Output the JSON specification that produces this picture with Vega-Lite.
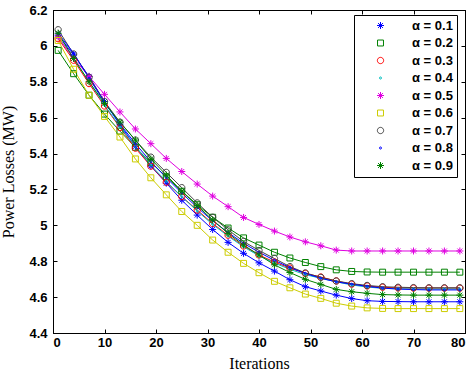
{
  "$schema": "https://vega.github.io/schema/vega-lite/v6.json",
  "autosize": {"type": "none"},
  "padding": {"left": 53, "top": 10, "right": 9, "bottom": 41},
  "width": 412,
  "height": 323,
  "background": "white",
  "config": {
    "view": {"stroke": "black", "strokeWidth": 1},
    "axis": {
      "grid": false,
      "domainColor": "black",
      "tickColor": "black",
      "labelColor": "black",
      "titleColor": "black",
      "labelFont": "Liberation Sans",
      "labelFontWeight": "bold",
      "labelFontSize": 13,
      "titleFont": "Liberation Serif",
      "titleFontWeight": "normal",
      "titleFontSize": 16,
      "tickSize": -4
    }
  },
  "data": {"values": [
    {"s":"α = 0.1","x":1,"y":6.06},{"s":"α = 0.1","x":4,"y":5.95},{"s":"α = 0.1","x":7,"y":5.83},{"s":"α = 0.1","x":10,"y":5.69},{"s":"α = 0.1","x":13,"y":5.56},{"s":"α = 0.1","x":16,"y":5.44},{"s":"α = 0.1","x":19,"y":5.33},{"s":"α = 0.1","x":22,"y":5.235},{"s":"α = 0.1","x":25,"y":5.14},{"s":"α = 0.1","x":28,"y":5.057},{"s":"α = 0.1","x":31,"y":4.977},{"s":"α = 0.1","x":34,"y":4.905},{"s":"α = 0.1","x":37,"y":4.844},{"s":"α = 0.1","x":40,"y":4.791},{"s":"α = 0.1","x":43,"y":4.745},{"s":"α = 0.1","x":46,"y":4.697},{"s":"α = 0.1","x":49,"y":4.658},{"s":"α = 0.1","x":52,"y":4.634},{"s":"α = 0.1","x":55,"y":4.611},{"s":"α = 0.1","x":58,"y":4.592},{"s":"α = 0.1","x":61,"y":4.58},{"s":"α = 0.1","x":64,"y":4.576},{"s":"α = 0.1","x":67,"y":4.575},{"s":"α = 0.1","x":70,"y":4.574},{"s":"α = 0.1","x":73,"y":4.574},{"s":"α = 0.1","x":76,"y":4.574},{"s":"α = 0.1","x":79,"y":4.574},
    {"s":"α = 0.2","x":1,"y":5.975},{"s":"α = 0.2","x":4,"y":5.845},{"s":"α = 0.2","x":7,"y":5.725},{"s":"α = 0.2","x":10,"y":5.62},{"s":"α = 0.2","x":13,"y":5.525},{"s":"α = 0.2","x":16,"y":5.435},{"s":"α = 0.2","x":19,"y":5.35},{"s":"α = 0.2","x":22,"y":5.27},{"s":"α = 0.2","x":25,"y":5.19},{"s":"α = 0.2","x":28,"y":5.115},{"s":"α = 0.2","x":31,"y":5.045},{"s":"α = 0.2","x":34,"y":4.985},{"s":"α = 0.2","x":37,"y":4.93},{"s":"α = 0.2","x":40,"y":4.89},{"s":"α = 0.2","x":43,"y":4.85},{"s":"α = 0.2","x":46,"y":4.818},{"s":"α = 0.2","x":49,"y":4.793},{"s":"α = 0.2","x":52,"y":4.77},{"s":"α = 0.2","x":55,"y":4.752},{"s":"α = 0.2","x":58,"y":4.743},{"s":"α = 0.2","x":61,"y":4.74},{"s":"α = 0.2","x":64,"y":4.739},{"s":"α = 0.2","x":67,"y":4.739},{"s":"α = 0.2","x":70,"y":4.739},{"s":"α = 0.2","x":73,"y":4.739},{"s":"α = 0.2","x":76,"y":4.739},{"s":"α = 0.2","x":79,"y":4.739},
    {"s":"α = 0.3","x":1,"y":6.04},{"s":"α = 0.3","x":4,"y":5.92},{"s":"α = 0.3","x":7,"y":5.79},{"s":"α = 0.3","x":10,"y":5.665},{"s":"α = 0.3","x":13,"y":5.545},{"s":"α = 0.3","x":16,"y":5.43},{"s":"α = 0.3","x":19,"y":5.33},{"s":"α = 0.3","x":22,"y":5.24},{"s":"α = 0.3","x":25,"y":5.16},{"s":"α = 0.3","x":28,"y":5.085},{"s":"α = 0.3","x":31,"y":5.01},{"s":"α = 0.3","x":34,"y":4.945},{"s":"α = 0.3","x":37,"y":4.885},{"s":"α = 0.3","x":40,"y":4.835},{"s":"α = 0.3","x":43,"y":4.795},{"s":"α = 0.3","x":46,"y":4.762},{"s":"α = 0.3","x":49,"y":4.732},{"s":"α = 0.3","x":52,"y":4.712},{"s":"α = 0.3","x":55,"y":4.69},{"s":"α = 0.3","x":58,"y":4.672},{"s":"α = 0.3","x":61,"y":4.662},{"s":"α = 0.3","x":64,"y":4.655},{"s":"α = 0.3","x":67,"y":4.651},{"s":"α = 0.3","x":70,"y":4.65},{"s":"α = 0.3","x":73,"y":4.65},{"s":"α = 0.3","x":76,"y":4.65},{"s":"α = 0.3","x":79,"y":4.65},
    {"s":"α = 0.4","x":1,"y":6.05},{"s":"α = 0.4","x":4,"y":5.93},{"s":"α = 0.4","x":7,"y":5.8},{"s":"α = 0.4","x":10,"y":5.67},{"s":"α = 0.4","x":13,"y":5.55},{"s":"α = 0.4","x":16,"y":5.44},{"s":"α = 0.4","x":19,"y":5.335},{"s":"α = 0.4","x":22,"y":5.245},{"s":"α = 0.4","x":25,"y":5.16},{"s":"α = 0.4","x":28,"y":5.08},{"s":"α = 0.4","x":31,"y":5.005},{"s":"α = 0.4","x":34,"y":4.94},{"s":"α = 0.4","x":37,"y":4.88},{"s":"α = 0.4","x":40,"y":4.83},{"s":"α = 0.4","x":43,"y":4.79},{"s":"α = 0.4","x":46,"y":4.755},{"s":"α = 0.4","x":49,"y":4.725},{"s":"α = 0.4","x":52,"y":4.705},{"s":"α = 0.4","x":55,"y":4.685},{"s":"α = 0.4","x":58,"y":4.668},{"s":"α = 0.4","x":61,"y":4.656},{"s":"α = 0.4","x":64,"y":4.649},{"s":"α = 0.4","x":67,"y":4.646},{"s":"α = 0.4","x":70,"y":4.645},{"s":"α = 0.4","x":73,"y":4.645},{"s":"α = 0.4","x":76,"y":4.645},{"s":"α = 0.4","x":79,"y":4.645},
    {"s":"α = 0.5","x":1,"y":6.05},{"s":"α = 0.5","x":4,"y":5.93},{"s":"α = 0.5","x":7,"y":5.83},{"s":"α = 0.5","x":10,"y":5.73},{"s":"α = 0.5","x":13,"y":5.632},{"s":"α = 0.5","x":16,"y":5.537},{"s":"α = 0.5","x":19,"y":5.455},{"s":"α = 0.5","x":22,"y":5.373},{"s":"α = 0.5","x":25,"y":5.3},{"s":"α = 0.5","x":28,"y":5.23},{"s":"α = 0.5","x":31,"y":5.163},{"s":"α = 0.5","x":34,"y":5.104},{"s":"α = 0.5","x":37,"y":5.044},{"s":"α = 0.5","x":40,"y":5.005},{"s":"α = 0.5","x":43,"y":4.968},{"s":"α = 0.5","x":46,"y":4.935},{"s":"α = 0.5","x":49,"y":4.908},{"s":"α = 0.5","x":52,"y":4.886},{"s":"α = 0.5","x":55,"y":4.862},{"s":"α = 0.5","x":58,"y":4.857},{"s":"α = 0.5","x":61,"y":4.857},{"s":"α = 0.5","x":64,"y":4.857},{"s":"α = 0.5","x":67,"y":4.857},{"s":"α = 0.5","x":70,"y":4.857},{"s":"α = 0.5","x":73,"y":4.857},{"s":"α = 0.5","x":76,"y":4.857},{"s":"α = 0.5","x":79,"y":4.857},
    {"s":"α = 0.6","x":1,"y":6.03},{"s":"α = 0.6","x":4,"y":5.87},{"s":"α = 0.6","x":7,"y":5.725},{"s":"α = 0.6","x":10,"y":5.607},{"s":"α = 0.6","x":13,"y":5.492},{"s":"α = 0.6","x":16,"y":5.37},{"s":"α = 0.6","x":19,"y":5.265},{"s":"α = 0.6","x":22,"y":5.17},{"s":"α = 0.6","x":25,"y":5.077},{"s":"α = 0.6","x":28,"y":5.0},{"s":"α = 0.6","x":31,"y":4.918},{"s":"α = 0.6","x":34,"y":4.85},{"s":"α = 0.6","x":37,"y":4.788},{"s":"α = 0.6","x":40,"y":4.736},{"s":"α = 0.6","x":43,"y":4.688},{"s":"α = 0.6","x":46,"y":4.652},{"s":"α = 0.6","x":49,"y":4.617},{"s":"α = 0.6","x":52,"y":4.593},{"s":"α = 0.6","x":55,"y":4.566},{"s":"α = 0.6","x":58,"y":4.55},{"s":"α = 0.6","x":61,"y":4.54},{"s":"α = 0.6","x":64,"y":4.537},{"s":"α = 0.6","x":67,"y":4.536},{"s":"α = 0.6","x":70,"y":4.536},{"s":"α = 0.6","x":73,"y":4.536},{"s":"α = 0.6","x":76,"y":4.536},{"s":"α = 0.6","x":79,"y":4.536},
    {"s":"α = 0.7","x":1,"y":6.09},{"s":"α = 0.7","x":4,"y":5.955},{"s":"α = 0.7","x":7,"y":5.825},{"s":"α = 0.7","x":10,"y":5.69},{"s":"α = 0.7","x":13,"y":5.575},{"s":"α = 0.7","x":16,"y":5.475},{"s":"α = 0.7","x":19,"y":5.38},{"s":"α = 0.7","x":22,"y":5.295},{"s":"α = 0.7","x":25,"y":5.21},{"s":"α = 0.7","x":28,"y":5.125},{"s":"α = 0.7","x":31,"y":5.045},{"s":"α = 0.7","x":34,"y":4.975},{"s":"α = 0.7","x":37,"y":4.91},{"s":"α = 0.7","x":40,"y":4.86},{"s":"α = 0.7","x":43,"y":4.815},{"s":"α = 0.7","x":46,"y":4.77},{"s":"α = 0.7","x":49,"y":4.735},{"s":"α = 0.7","x":52,"y":4.71},{"s":"α = 0.7","x":55,"y":4.69},{"s":"α = 0.7","x":58,"y":4.675},{"s":"α = 0.7","x":61,"y":4.665},{"s":"α = 0.7","x":64,"y":4.658},{"s":"α = 0.7","x":67,"y":4.655},{"s":"α = 0.7","x":70,"y":4.653},{"s":"α = 0.7","x":73,"y":4.652},{"s":"α = 0.7","x":76,"y":4.652},{"s":"α = 0.7","x":79,"y":4.652},
    {"s":"α = 0.8","x":1,"y":6.07},{"s":"α = 0.8","x":4,"y":5.96},{"s":"α = 0.8","x":7,"y":5.82},{"s":"α = 0.8","x":10,"y":5.685},{"s":"α = 0.8","x":13,"y":5.565},{"s":"α = 0.8","x":16,"y":5.455},{"s":"α = 0.8","x":19,"y":5.355},{"s":"α = 0.8","x":22,"y":5.265},{"s":"α = 0.8","x":25,"y":5.18},{"s":"α = 0.8","x":28,"y":5.1},{"s":"α = 0.8","x":31,"y":5.025},{"s":"α = 0.8","x":34,"y":4.96},{"s":"α = 0.8","x":37,"y":4.9},{"s":"α = 0.8","x":40,"y":4.85},{"s":"α = 0.8","x":43,"y":4.805},{"s":"α = 0.8","x":46,"y":4.765},{"s":"α = 0.8","x":49,"y":4.732},{"s":"α = 0.8","x":52,"y":4.705},{"s":"α = 0.8","x":55,"y":4.685},{"s":"α = 0.8","x":58,"y":4.672},{"s":"α = 0.8","x":61,"y":4.66},{"s":"α = 0.8","x":64,"y":4.65},{"s":"α = 0.8","x":67,"y":4.645},{"s":"α = 0.8","x":70,"y":4.642},{"s":"α = 0.8","x":73,"y":4.64},{"s":"α = 0.8","x":76,"y":4.64},{"s":"α = 0.8","x":79,"y":4.64},
    {"s":"α = 0.9","x":1,"y":6.07},{"s":"α = 0.9","x":4,"y":5.93},{"s":"α = 0.9","x":7,"y":5.8},{"s":"α = 0.9","x":10,"y":5.68},{"s":"α = 0.9","x":13,"y":5.575},{"s":"α = 0.9","x":16,"y":5.475},{"s":"α = 0.9","x":19,"y":5.37},{"s":"α = 0.9","x":22,"y":5.28},{"s":"α = 0.9","x":25,"y":5.19},{"s":"α = 0.9","x":28,"y":5.11},{"s":"α = 0.9","x":31,"y":5.03},{"s":"α = 0.9","x":34,"y":4.955},{"s":"α = 0.9","x":37,"y":4.89},{"s":"α = 0.9","x":40,"y":4.835},{"s":"α = 0.9","x":43,"y":4.78},{"s":"α = 0.9","x":46,"y":4.737},{"s":"α = 0.9","x":49,"y":4.699},{"s":"α = 0.9","x":52,"y":4.671},{"s":"α = 0.9","x":55,"y":4.643},{"s":"α = 0.9","x":58,"y":4.63},{"s":"α = 0.9","x":61,"y":4.621},{"s":"α = 0.9","x":64,"y":4.614},{"s":"α = 0.9","x":67,"y":4.612},{"s":"α = 0.9","x":70,"y":4.611},{"s":"α = 0.9","x":73,"y":4.611},{"s":"α = 0.9","x":76,"y":4.611},{"s":"α = 0.9","x":79,"y":4.611}
  ]},
  "layer": [
    {
      "mark": {"type": "line", "strokeWidth": 1},
      "encoding": {
        "x": {"field": "x", "type": "quantitative", "scale": {"domain": [0, 80], "nice": false},
              "axis": {"orient": "bottom", "values": [0,10,20,30,40,50,60,70,80], "title": "Iterations", "labelPadding": 7, "titlePadding": 6}},
        "y": {"field": "y", "type": "quantitative", "scale": {"domain": [4.4, 6.2], "nice": false, "zero": false},
              "axis": {"orient": "left", "values": [4.4,4.6,4.8,5,5.2,5.4,5.6,5.8,6,6.2], "format": "~g", "title": "Power Losses (MW)", "labelPadding": 10, "titlePadding": 12}},
        "color": {"field": "s", "type": "nominal",
                  "scale": {"domain": ["α = 0.1","α = 0.2","α = 0.3","α = 0.4","α = 0.5","α = 0.6","α = 0.7","α = 0.8","α = 0.9"],
                            "range": ["#0000ff","#008000","#ff0000","#00bfbf","#e000e0","#cccc00","#444444","#0000ff","#008000"]}}
      }
    },
    {
      "mark": {"type": "point", "filled": false, "size": 49, "strokeWidth": 1, "opacity": 1},
      "encoding": {
        "x": {"field": "x", "type": "quantitative",
              "axis": {"orient": "top", "values": [0,10,20,30,40,50,60,70,80], "labels": false, "title": null}},
        "y": {"field": "y", "type": "quantitative",
              "axis": {"orient": "right", "values": [4.4,4.6,4.8,5,5.2,5.4,5.6,5.8,6,6.2], "labels": false, "title": null}},
        "color": {"field": "s", "type": "nominal",
                  "legend": {
                    "orient": "none", "legendX": 301, "legendY": 5, "title": null,
                    "strokeColor": "black", "fillColor": "white", "padding": 4,
                    "labelFont": "Liberation Sans", "labelFontSize": 13, "labelFontWeight": "bold", "labelColor": "black",
                    "symbolSize": 49, "symbolStrokeWidth": 1, "rowPadding": 3.5, "symbolOffset": 16, "labelOffset": 25
                  }},
        "shape": {"field": "s", "type": "nominal",
                  "scale": {"domain": ["α = 0.1","α = 0.2","α = 0.3","α = 0.4","α = 0.5","α = 0.6","α = 0.7","α = 0.8","α = 0.9"],
                            "range": [
                              "M-1,0H1M0,-1V1M-0.7,-0.7L0.7,0.7M-0.7,0.7L0.7,-0.7",
                              "M-0.85,-0.85H0.85V0.85H-0.85Z",
                              "M0.9,0A0.9,0.9,0,1,1,-0.9,0A0.9,0.9,0,1,1,0.9,0",
                              "M0.3,0A0.3,0.3,0,1,1,-0.3,0A0.3,0.3,0,1,1,0.3,0",
                              "M-1,0H1M0,-1V1M-0.7,-0.7L0.7,0.7M-0.7,0.7L0.7,-0.7",
                              "M-0.85,-0.85H0.85V0.85H-0.85Z",
                              "M0.9,0A0.9,0.9,0,1,1,-0.9,0A0.9,0.9,0,1,1,0.9,0",
                              "M0.3,0A0.3,0.3,0,1,1,-0.3,0A0.3,0.3,0,1,1,0.3,0",
                              "M-1,0H1M0,-1V1M-0.7,-0.7L0.7,0.7M-0.7,0.7L0.7,-0.7"
                            ]}}
      }
    }
  ],
  "resolve": {"axis": {"x": "independent", "y": "independent"}}
}
